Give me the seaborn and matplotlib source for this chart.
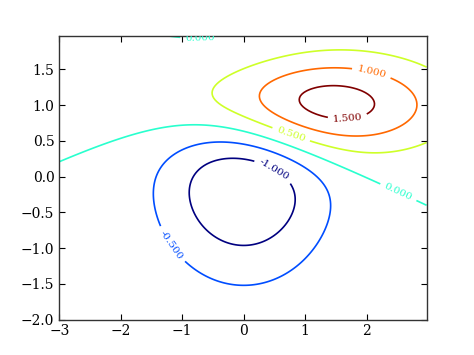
import numpy as np
import matplotlib
matplotlib.use("Agg")
import matplotlib.pyplot as plt
import seaborn as sns

# grid extents and step
x_start, x_stop, y_start, y_stop, step = -3.0, 3.0, -2.0, 2.0, 0.025
# two gaussian bumps: (sigma_x, sigma_y, mu_x, mu_y)
neg_bump = [1.0, 1.0, 0.0, 0.0]
pos_bump = [1.5, 0.5, 1.0, 1.0]
scale = 10.0
levels = [-1.0, -0.5, 0.0, 0.5, 1.0, 1.5]
xticks = [-3, -2, -1, 0, 1, 2]
yticks = [-2.0, -1.5, -1.0, -0.5, 0.0, 0.5, 1.0, 1.5]

sns.set_theme(style="white")
plt.rcParams.update({
    "font.family": ["DejaVu Serif"],
    "xtick.direction": "in", "ytick.direction": "in",
    "xtick.top": True, "ytick.right": True,
    "xtick.bottom": True, "ytick.left": True,
    "xtick.major.size": 4, "ytick.major.size": 4,
    "xtick.major.width": 0.8, "ytick.major.width": 0.8,
    "xtick.color": "black", "ytick.color": "black",
    "axes.edgecolor": "#333333", "axes.linewidth": 1.0,
    "xtick.labelsize": 10, "ytick.labelsize": 10,
})


def bivariate(X, Y, sx, sy, mx, my):
    return np.exp(-((X - mx) ** 2 / (2 * sx ** 2) + (Y - my) ** 2 / (2 * sy ** 2))) / (2 * np.pi * sx * sy)


x = np.arange(x_start, x_stop, step)
y = np.arange(y_start, y_stop, step)
X, Y = np.meshgrid(x, y)
Z = scale * (bivariate(X, Y, *pos_bump) - bivariate(X, Y, *neg_bump))

fig = plt.figure(figsize=(4.74, 3.55), dpi=100)
fig.subplots_adjust(left=0.125, right=0.9, bottom=0.1, top=0.9)
ax = fig.add_subplot(111)
cs = ax.contour(X, Y, Z, levels=levels, cmap="jet", linewidths=1.2)
label_spots = [(-0.71, 1.95), (2.08, 1.46), (1.69, 0.82), (0.78, 0.61),
               (0.51, 0.12), (-1.17, -0.95), (2.52, -0.21)]
ax.clabel(cs, inline=True, fontsize=7.5, fmt="%1.3f", manual=label_spots)
ax.set_xticks(xticks)
ax.set_yticks(yticks)
ax.set_xlim(x[0], x[-1])
ax.set_ylim(y[0], y[-1])
fig.savefig("out.png", dpi=100, facecolor="white")
